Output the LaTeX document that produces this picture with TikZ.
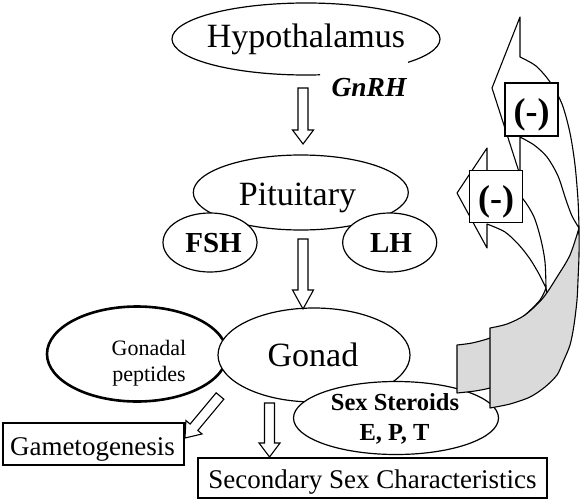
\documentclass[tikz,border=0pt]{standalone}
\usepackage{fontspec}
\setmainfont{Liberation Serif}
\usetikzlibrary{shapes.geometric,calc}
\definecolor{backgray}{RGB}{218,218,218}
\tikzset{
  ell/.style={ellipse, draw, fill=white, inner sep=0pt, line width=1.2pt},
  txt/.style={anchor=base, inner sep=0pt},
  fatarrow/.style={draw, fill=white, line width=1.1pt, line join=miter},
  boxnode/.style={draw, fill=white, line width=1.2pt, inner sep=0pt},
  arrline/.style={draw=black, line width=1.1pt, line join=round},
  bigfont/.style={font=\fontsize{34}{36}\selectfont},
  negfont/.style={font=\bfseries\fontsize{36}{38}\selectfont},
}
\newcommand\fatarr[3]{%
  \coordinate (hb) at ($(#3)!#1!(#2)$);
  \draw[fatarrow] ($(#2)!5pt!90:(#3)$) -- ($(hb)!5pt!90:(#3)$) -- ($(hb)!10.5pt!90:(#3)$) -- (#3)
    -- ($(hb)!10.5pt!-90:(#3)$) -- ($(hb)!5pt!-90:(#3)$) -- ($(#2)!5pt!-90:(#3)$) -- cycle;}
\begin{document}
\begin{tikzpicture}[x=1pt,y=-1pt]
\useasboundingbox (0,0) rectangle (580,500);

% Gonadal peptides
\node[ell, line width=2.6pt, minimum width=180pt, minimum height=95pt] (pep) at (137,354) {};
\node[txt, font=\fontsize{22}{24}\selectfont] (peptxt1) at (149,355) {Gonadal};
\node[txt, font=\fontsize{22}{24}\selectfont] (peptxt2) at (149,381) {peptides};

% Gonad
\node[ell, minimum width=192pt, minimum height=94pt] (gonad) at (314,355) {};
\node[txt, bigfont] (gonadtxt) at (313,366.5) {Gonad};

% Sex steroids
\node[ell, minimum width=205pt, minimum height=73pt] (ss) at (396,418) {};
\node[txt, font=\bfseries\fontsize{24.5}{26}\selectfont] (sstxt1) at (395,410) {Sex Steroids};
\node[txt, font=\bfseries\fontsize{24.5}{26}\selectfont] (sstxt2) at (394.5,440) {E, P, T};

% Pituitary, FSH, LH
\node[ell, minimum width=215pt, minimum height=75pt] (pit) at (300.8,192.5) {};
\node[txt, bigfont] (pittxt) at (297.5,205) {Pituitary};
\node[ell, minimum width=94pt, minimum height=59pt] (fsh) at (210,242.5) {};
\node[txt, font=\bfseries\fontsize{29}{30}\selectfont] (fshtxt) at (213.5,252) {FSH};
\node[ell, minimum width=94pt, minimum height=59pt] (lh) at (389.7,242.5) {};
\node[txt, font=\bfseries\fontsize{29}{30}\selectfont] (lhtxt) at (391,252) {LH};

% Hypothalamus (open ellipse)
\node[ellipse, inner sep=0pt, minimum width=268pt, minimum height=72pt] (hyp) at (306,39) {};
\draw[line width=1.2pt] (hyp.center) ++(-84:134pt and 36pt)
  arc[start angle=-84, end angle=-400.4, x radius=134pt, y radius=36pt];
\node[txt, bigfont] (hyptxt) at (306,48) {Hypothalamus};
\node[txt, font=\bfseries\itshape\fontsize{27.5}{29}\selectfont] (gnrh) at (369,96) {GnRH};

% hollow arrows
\coordinate (a1s) at (303,88);   \coordinate (a1e) at (303,144);
\fatarr{14pt}{a1s}{a1e}
\coordinate (a2s) at (303,239);  \coordinate (a2e) at (303,309);
\fatarr{19pt}{a2s}{a2e}
\coordinate (a3s) at (269.5,403); \coordinate (a3e) at (269.5,457);
\fatarr{14pt}{a3s}{a3e}
\coordinate (a4s) at (220,396);  \coordinate (a4e) at (185,438);
\fatarr{14pt}{a4s}{a4e}

% boxes
\node[boxnode, minimum width=181pt, minimum height=42pt] (game) at (93.5,444) {};
\node[txt, font=\fontsize{27}{30}\selectfont] (gametxt) at (92.5,455) {Gametogenesis};
\node[boxnode, minimum width=349pt, minimum height=40pt] (sec) at (372.5,478) {};
\node[txt, font=\fontsize{27}{30}\selectfont] (sectxt) at (372.5,488) {Secondary Sex Characteristics};

% small curved arrow: back
\filldraw[arrline, fill=backgray]
  plot[smooth] coordinates {(546,288) (540,300) (525,315) (505,330) (490,338) (472,343) (457,345)}
  -- (457,393)
  -- plot[smooth] coordinates {(457,393) (475,391) (490,388) (510,382) (530,370) (545,345) (550,315) (546,288)}
  -- cycle;
% small curved arrow: front
\filldraw[arrline, fill=white] (487,148) -- (457,193) -- (487,248) -- (487,224)
  -- plot[smooth] coordinates {(487,224) (505,232) (519,245) (530,259) (539,274) (546,288)}
  -- plot[smooth] coordinates {(546,288) (545,262) (541,240) (534,217) (523,199) (506,183) (487,175)}
  -- cycle;

% big curved arrow: back
\filldraw[arrline, fill=backgray] (490,328) -- (490,408)
  -- plot[smooth] coordinates {(490,408) (510,404) (530,397) (545,387) (557,375) (563,362) (570,345) (574,325) (577,300) (578,280) (579,255) (579,228)}
  -- plot[smooth] coordinates {(579,228) (570,255) (557,277) (543,298) (525,315) (507,324) (490,328)}
  -- cycle;
% big curved arrow: front
\filldraw[arrline, fill=white] (520,17) -- (492,88) -- (520,175) -- (520,137)
  -- plot[smooth] coordinates {(520,137) (534,145) (547,157) (558,176) (566,200) (572,216) (579,228)}
  -- plot[smooth] coordinates {(579,228) (578,200) (575,165) (570,133) (562,104) (550,82) (536,66) (520,57)}
  -- cycle;

% (-) boxes
\node[boxnode, minimum width=53pt, minimum height=53pt] (neg1) at (531.5,109.5) {};
\node[txt, negfont] (neg1txt) at (531.5,123) {(-)};
\node[boxnode, minimum width=53pt, minimum height=52pt] (neg2) at (496,196.7) {};
\node[txt, negfont] (neg2txt) at (496,210) {(-)};
\end{tikzpicture}
\end{document}
